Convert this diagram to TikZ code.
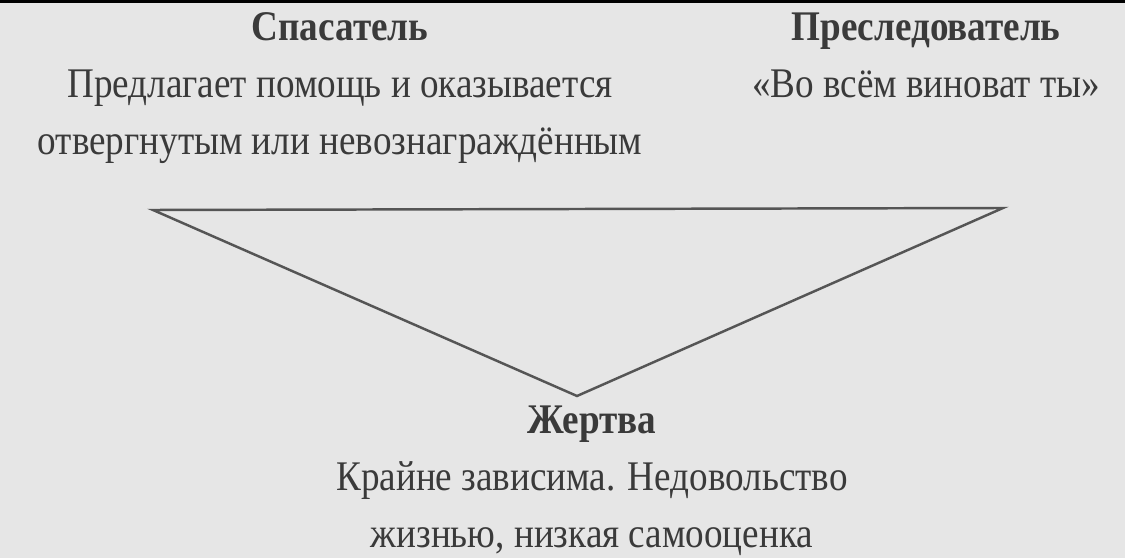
\documentclass[tikz,border=0pt]{standalone}
\usepackage{fontspec}
\setmainfont[FakeStretch=0.88]{Liberation Serif}
\usetikzlibrary{positioning}

\definecolor{paper}{HTML}{E6E6E6}
\definecolor{ink}{HTML}{3A3A3A}
\definecolor{edgegray}{HTML}{555555}

\begin{document}
\begin{tikzpicture}[x=0.01cm, y=-0.01cm,
every node/.style = {inner sep=0pt, anchor=north, align=center,
                     text=ink, font=\fontsize{12}{16.2}\selectfont},
side/.style = {draw=edgegray, line width=0.7pt, line join=miter},
                    ]
%---
\fill[paper] (0,0) rectangle (1125,558);
\fill[black] (0,0) rectangle (1125,3);
\useasboundingbox (0,0) rectangle (1125,558);

\coordinate (rescuer_v)    at (153,210);
\coordinate (persecutor_v) at (1003,208);
\coordinate (victim_v)     at (577,396);

\node (rescuer) at (340,12) {\textbf{Спасатель}\\
      Предлагает помощь и оказывается\\
      отвергнутым или невознаграждённым};
\node (persecutor) at (926,12) {\textbf{Преследователь}\\
      «Во всём виноват ты»};
\node (victim) at (592,405) {\textbf{Жертва}\\
      Крайне зависима. Недовольство\\
      жизнью, низкая самооценка};

\draw[side] (rescuer_v) -- (persecutor_v) -- (victim_v) -- cycle;

\end{tikzpicture}
\end{document}
